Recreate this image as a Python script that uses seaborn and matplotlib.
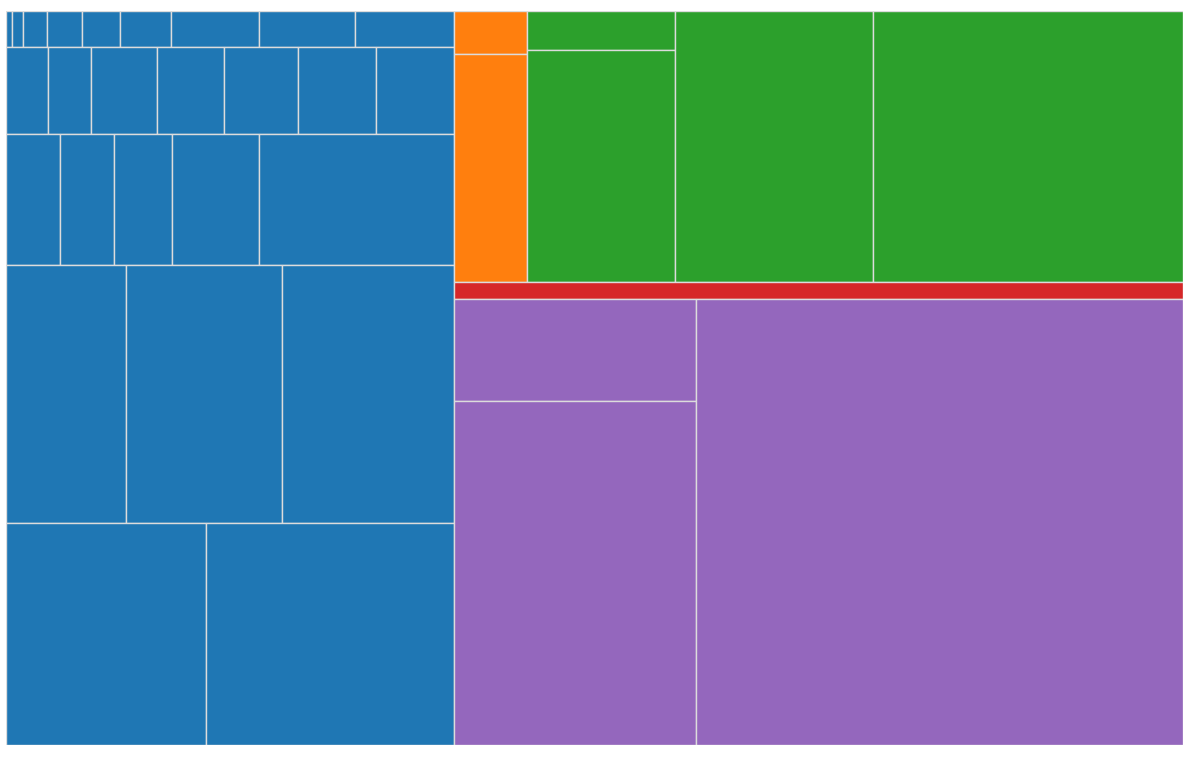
import matplotlib
matplotlib.use("Agg")
import matplotlib.pyplot as plt
from matplotlib.patches import Rectangle
import seaborn as sns

# leaf values per group, in data order
group_a = [219, 391, 887, 1278, 1376, 1862, 3212, 3504, 3606,
           3628, 3793, 5690, 5855, 6438, 6786, 6786,
           7062, 7140, 7588, 11480, 25643,
           30977, 40093, 44290,
           44400, 55056]
group_b = [3171, 16507]
group_c = [5846, 34336, 53920, 83948]
group_d = [12166]
group_e = [24653, 83145, 217113]

groups = [group_a, group_b, group_c, group_d, group_e]

PHI = (1 + 5 ** 0.5) / 2


# port of d3.treemapSquarify
def squarify(values, x0, y0, x1, y1, ratio=PHI):
    rects = [None] * len(values)
    total = float(sum(values))
    n = len(values)
    i0 = i1 = 0
    while i0 < n:
        dx, dy = x1 - x0, y1 - y0
        s = values[i1]
        i1 += 1
        mn = mx = s
        alpha = max(dy / dx, dx / dy) / (total * ratio)
        beta = s * s * alpha
        best = max(mx / beta, beta / mn)
        while i1 < n:
            v = values[i1]
            s2 = s + v
            mn2, mx2 = min(mn, v), max(mx, v)
            beta = s2 * s2 * alpha
            r = max(mx2 / beta, beta / mn2)
            if r > best:
                break
            s, mn, mx, best = s2, mn2, mx2, r
            i1 += 1
        if dx < dy:
            yb = y0 + dy * s / total
            x = x0
            for i in range(i0, i1):
                w = dx * values[i] / s
                rects[i] = (x, y0, w, yb - y0)
                x += w
            y0 = yb
        else:
            xb = x0 + dx * s / total
            y = y0
            for i in range(i0, i1):
                h = dy * values[i] / s
                rects[i] = (x0, y, xb - x0, h)
                y += h
            x0 = xb
        total -= s
        i0 = i1
    return rects


W, H = 1176.5, 734.5

sns.set_theme(style="white")
colors = sns.color_palette("tab10")

fig = plt.figure(figsize=(12, 7.63), dpi=100)
ax = fig.add_axes([6 / 1200, 18 / 763, W / 1200, H / 763])

group_rects = squarify([sum(g) for g in groups], 0, 0, W, H)
for k, (g, (gx, gy, gw, gh)) in enumerate(zip(groups, group_rects)):
    for (x, y, w, h) in squarify(g, gx, gy, gx + gw, gy + gh):
        ax.add_patch(Rectangle((x, y), w, h, facecolor=colors[k],
                               edgecolor="#dcdcdc", linewidth=1.0))

ax.set_xlim(0, W)
ax.set_ylim(H, 0)
ax.axis("off")

fig.savefig("out.png", dpi=100)
